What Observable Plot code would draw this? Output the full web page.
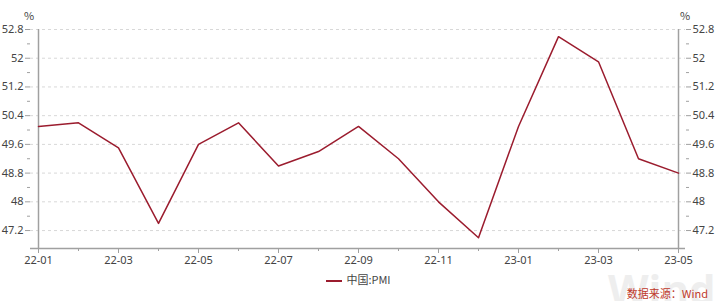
<!DOCTYPE html>
<html><head><meta charset="utf-8">
<script src="https://cdn.jsdelivr.net/npm/d3@7"></script>
<script src="https://cdn.jsdelivr.net/npm/@observablehq/plot@0.6"></script>
<style>
body{margin:0;background:#fff;font-family:"Noto Sans CJK SC","Noto Sans",sans-serif;}
#wrap{position:relative;width:717px;height:301px;overflow:hidden;}
#wm{position:absolute;left:608px;top:273px;font:bold 42px/0.75 "Open Sans",sans-serif;color:#eeeeee;}
#chart{position:absolute;left:0;top:0;}
#legend{position:absolute;left:0;width:717px;top:271px;text-align:center;font-size:11px;color:#444;}
#legend span.sw{display:inline-block;width:16px;height:2px;background:#9b1c2e;vertical-align:middle;margin-right:4px;}
#src{position:absolute;right:9px;top:285px;font-size:11px;color:#c0392b;}
.pct{position:absolute;top:7px;font-size:11px;color:#444;}
</style></head>
<body><div id="wrap">
<div id="wm">Wind</div>
<div id="chart"></div>
<div class="pct" style="left:24px">%</div>
<div class="pct" style="left:680px">%</div>
<div id="legend"><span class="sw"></span>中国:PMI</div>
<div id="src">数据来源：Wind</div>
</div>
<script>
const months = ["22-01","22-02","22-03","22-04","22-05","22-06","22-07","22-08","22-09","22-10","22-11","22-12","23-01","23-02","23-03","23-04","23-05"];
const pmi = [50.1,50.2,49.5,47.4,49.6,50.2,49.0,49.4,50.1,49.2,48.0,47.0,50.1,52.6,51.9,49.2,48.8];
const yMajor = [47.2,48,48.8,49.6,50.4,51.2,52,52.8];
const yMinor = [47.6,48.4,49.2,50,50.8,51.6,52.4];
const yLabels = ["47.2","48","48.8","49.6","50.4","51.2","52","52.8"];

const data = months.map((m,i)=>({m, v:pmi[i]}));
const xMajor = months.filter((d,i)=>i%2===0);
const xMinor = months.filter((d,i)=>i%2===1);
const fmtY = d => yLabels[yMajor.indexOf(d)] ?? "";
const axisColor = "#a0a0a0";

const chart = Plot.plot({
  width: 717, height: 272,
  marginTop: 29, marginBottom: 24, marginLeft: 30, marginRight: 32,
  style: {fontFamily: '"Noto Sans", sans-serif', fontSize: "11px", color: "#444", background: "transparent"},
  x: {type: "point", domain: months, padding: 0},
  y: {domain: [46.7, 52.8]},
  marks: [
    Plot.ruleY(yMajor, {stroke: "#d8d8d8", strokeDasharray: "3,3"}),
    Plot.axisY(yMajor, {anchor: "left", tickSize: 5, tickFormat: fmtY, stroke: axisColor, label: null, tickPadding: 2}),
    Plot.axisY(yMinor, {anchor: "left", tickSize: 3, tickFormat: () => "", stroke: axisColor, label: null}),
    Plot.axisY(yMajor, {anchor: "right", tickSize: 5, tickFormat: fmtY, stroke: axisColor, label: null, tickPadding: 2}),
    Plot.axisY(yMinor, {anchor: "right", tickSize: 3, tickFormat: () => "", stroke: axisColor, label: null}),
    Plot.axisX(xMajor, {tickSize: 5, stroke: axisColor, label: null, tickPadding: 3}),
    Plot.axisX(xMinor, {tickSize: 3, tickFormat: () => "", stroke: axisColor, label: null}),
    Plot.ruleX([months[0], months[months.length-1]], {stroke: axisColor, strokeWidth: 1.5}),
    Plot.ruleY([46.7], {stroke: axisColor, strokeWidth: 1.5}),
    Plot.line(data, {x: "m", y: "v", stroke: "#9b1c2e", strokeWidth: 1.5})
  ]
});
document.getElementById("chart").appendChild(chart);
</script>
</body></html>
